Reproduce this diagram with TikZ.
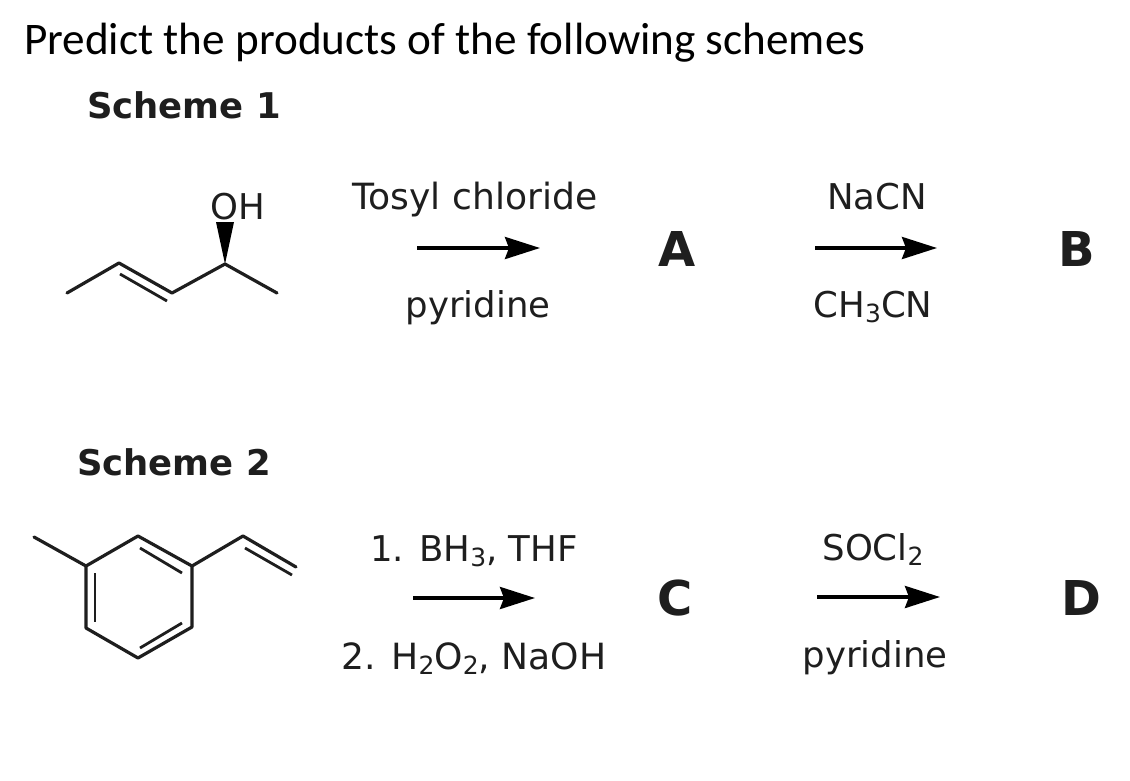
\documentclass[tikz,border=0pt]{standalone}
\usepackage{fontspec}
\setmainfont{DejaVu Sans}
\newfontfamily\titlefont{Carlito}
\usetikzlibrary{arrows.meta}
\definecolor{ink}{HTML}{1E1E1E}
\tikzset{
  x=1pt,y=-1pt,
  bond/.style={draw=ink,line width=3.2pt,line cap=round,line join=round},
  inner bond/.style={draw=ink,line width=2.8pt,line cap=butt},
  rxn/.style={draw=black,line width=3.6pt,-{Stealth[length=35pt,width=22pt,inset=4pt]}},
  lab/.style={inner sep=0pt,font=\fontsize{35.5}{40}\selectfont,text=ink},
  wide lab/.style={inner sep=0pt,font=\fontsize{36.1}{40}\selectfont,text=ink},
  atomlab/.style={inner sep=0pt,font=\fontsize{35.5}{40}\selectfont,text=ink},
  head/.style={inner sep=0pt,font=\bfseries\fontsize{35.4}{40}\selectfont,text=ink},
  letter/.style={inner sep=0pt,font=\bfseries\fontsize{48}{52}\selectfont,text=ink},
}
\newcommand{\subs}[1]{\raisebox{-5pt}{\fontsize{25}{28}\selectfont #1}}
\begin{document}
\begin{tikzpicture}
\path[fill=white,use as bounding box] (0,0) rectangle (1130,780);
\node[anchor=west,inner sep=0pt,text=black,font=\titlefont\fontsize{45.2}{48}\selectfont] (title) at (24,43) {Predict the products of the following schemes};
\node[head,anchor=west] (s1) at (87,105) {Scheme 1};
\node[head,anchor=west] (s2) at (77,462) {Scheme 2};

% molecule 1
\coordinate (a1) at (67,293);
\coordinate (a2) at (119,263);
\coordinate (a3) at (172,293);
\coordinate (a4) at (225,264);
\coordinate (a5) at (277,293);
\coordinate (a2i) at (120,274);
\coordinate (a3i) at (167,301);
\coordinate (wl) at (216,222);
\coordinate (wr) at (234,222);
\node[atomlab] (oh) at (238,207) {OH};
\draw[bond] (a1)--(a2)--(a3)--(a4)--(a5);
\draw[inner bond] (a2i)--(a3i);
\fill[black] (a4)--(wl)--(wr)--cycle;

% molecule 2
\coordinate (m) at (34,537);
\coordinate (r1) at (86,566);
\coordinate (r2) at (138,536);
\coordinate (r3) at (192,566);
\coordinate (r4) at (192,627);
\coordinate (r5) at (138,658);
\coordinate (r6) at (86,628);
\coordinate (v1) at (243,536);
\coordinate (v2) at (296,567);
\coordinate (v1i) at (245,548);
\coordinate (v2i) at (292,575);
\coordinate (i1) at (95,573);
\coordinate (i2) at (95,622);
\coordinate (i3) at (140,548);
\coordinate (i4) at (182,573);
\coordinate (i5) at (140,648);
\coordinate (i6) at (182,623);
\draw[bond] (r1)--(r2)--(r3)--(r4)--(r5)--(r6)--cycle;
\draw[bond] (m)--(r1);
\draw[bond] (r3)--(v1)--(v2);
\draw[inner bond] (v1i)--(v2i);
\draw[inner bond] (i1)--(i2);
\draw[inner bond] (i3)--(i4);
\draw[inner bond] (i5)--(i6);

% arrows
\coordinate (p1) at (417,248); \coordinate (q1) at (540,248);
\coordinate (p2) at (815,248); \coordinate (q2) at (937,248);
\coordinate (p3) at (413,598); \coordinate (q3) at (535,598);
\coordinate (p4) at (817,597); \coordinate (q4) at (940,597);
\draw[rxn] (p1)--(q1);
\draw[rxn] (p2)--(q2);
\draw[rxn] (p3)--(q3);
\draw[rxn] (p4)--(q4);

% labels
\node[wide lab,anchor=base] (t1) at (475,209) {Tosyl chloride};
\node[lab,anchor=base] (t2) at (478,317) {pyridine};
\node[lab,anchor=base] (t3) at (877,209) {NaCN};
\node[lab,anchor=base] (t4) at (873,317) {CH\subs{3}CN};
\node[lab,anchor=base] (t5) at (474,561) {1. BH\subs{3}, THF};
\node[wide lab,anchor=base] (t6) at (474,669) {2. H\subs{2}O\subs{2}, NaOH};
\node[lab,anchor=base] (t7) at (873,560) {SOCl\subs{2}};
\node[lab,anchor=base] (t8) at (875,667) {pyridine};

\node[letter] (A) at (677,249) {A};
\node[letter] (B) at (1077,249) {B};
\node[letter] (C) at (675,598) {C};
\node[letter] (D) at (1081,598) {D};
\end{tikzpicture}
\end{document}
